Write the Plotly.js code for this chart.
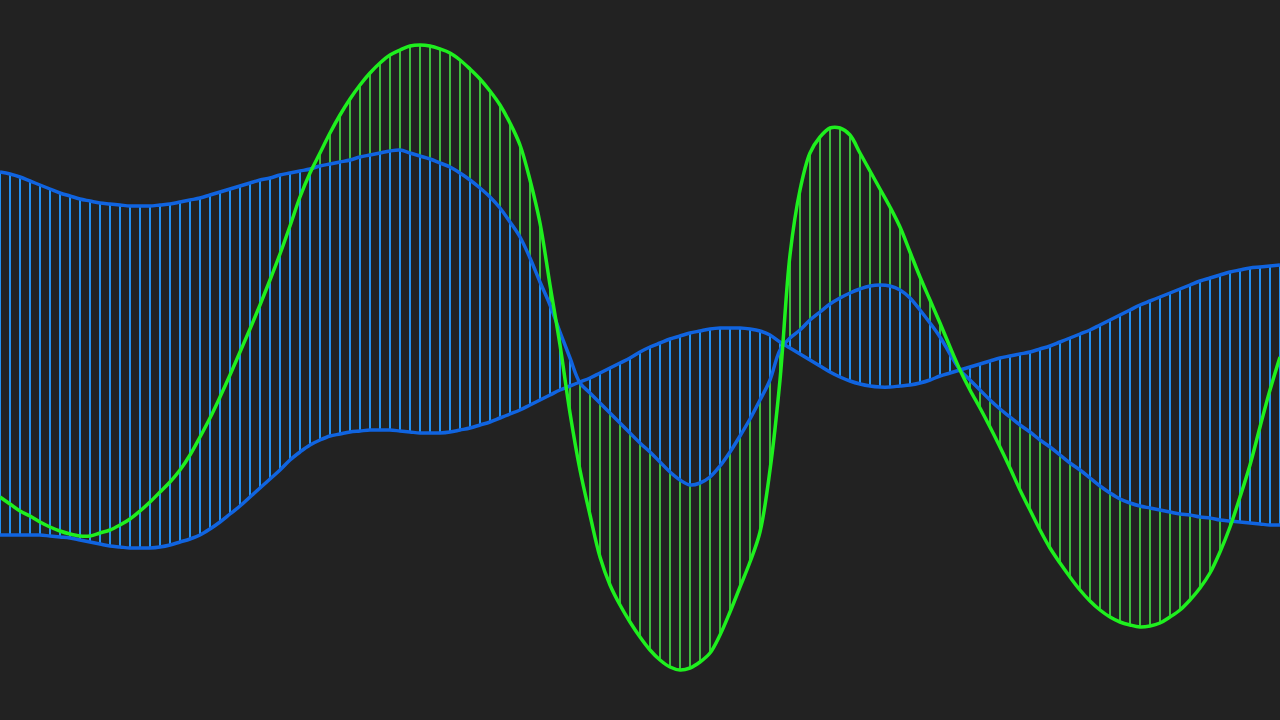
<!DOCTYPE html>
<html>
<head>
<meta charset="utf-8">
<script src="https://cdn.plot.ly/plotly-3.0.1.min.js"></script>
<style>
html,body{margin:0;padding:0;background:#222222;}
#chart{width:1280px;height:720px;}
</style>
</head>
<body>
<div id="chart"></div>
<script>
// sample positions (one every 10 units across the strip)
const positions = Array.from({length: 129}, (_, i) => i * 10);

// green oscillator
const greenWave = [
-137,-144,-151,-156,-162,-167,-171,-174,-176,-176,
-173,-170,-165,-159,-151,-142,-132,-122,-110,-95,
-77,-58,-37,-15,8,31,55,80,106,134,
163,187,207,227,245,261,275,287,297,305,
310,314,315,314,311,307,300,291,281,269,
255,237,215,180,137,75,15,-53,-110,-155,
-197,-225,-245,-262,-277,-290,-300,-307,-310,-308,
-302,-293,-275,-252,-227,-202,-172,-110,-20,105,
170,207,223,232,232,225,207,189,171,153,
133,108,83,60,37,13,-10,-30,-48,-67,
-87,-108,-130,-150,-170,-188,-203,-217,-230,-241,
-250,-257,-262,-265,-267,-266,-263,-257,-250,-240,
-228,-213,-192,-167,-137,-105,-67,-30,3
];

// blue line A (upper on the left)
const blueA = [
188,186,183,179,175,171,167,164,161,159,
157,156,155,154,154,154,155,156,158,160,
162,165,168,171,174,177,180,182,185,187,
189,191,194,196,198,200,203,205,207,209,
210,207,204,201,197,193,187,180,172,163,
152,138,123,102,78,55,28,2,-23,-33,
-43,-53,-63,-73,-83,-92,-102,-112,-120,-125,
-123,-117,-106,-92,-76,-59,-40,-20,10,22,
30,40,48,56,62,67,71,74,75,74,
70,62,50,37,23,6,-10,-20,-30,-40,
-49,-57,-65,-72,-80,-87,-95,-103,-110,-118,
-126,-133,-139,-143,-146,-148,-150,-152,-154,-155,
-157,-158,-160,-161,-162,-163,-164,-165,-165
];

// blue line B (lower on the left)
const blueB = [
-175,-175,-175,-175,-175,-176,-177,-178,-180,-182,
-184,-186,-187,-188,-188,-188,-187,-185,-182,-179,
-175,-169,-162,-154,-146,-137,-128,-119,-110,-100,
-92,-85,-80,-76,-74,-72,-71,-70,-70,-70,
-71,-72,-73,-73,-73,-72,-70,-68,-65,-62,
-58,-54,-50,-45,-40,-35,-30,-26,-22,-18,
-13,-8,-3,2,8,13,17,21,24,27,
29,31,32,32,32,31,29,25,18,12,
6,0,-6,-12,-17,-21,-24,-26,-27,-27,
-26,-25,-23,-20,-16,-13,-10,-7,-4,-1,
2,4,6,8,11,14,18,22,26,30,
35,40,45,50,55,59,63,67,71,75,
79,82,85,88,90,92,93,94,95
];

// hatch segments built from the series
const blueHX = [], blueHY = [], greenHX = [], greenHY = [];
for (let i = 0; i < positions.length; i++) {
  const x = positions[i];
  const hi = Math.max(blueA[i], blueB[i]);
  const lo = Math.min(blueA[i], blueB[i]);
  blueHX.push(x, x, null);
  blueHY.push(blueA[i], blueB[i], null);
  const g = greenWave[i];
  if (g > hi) { greenHX.push(x, x, null); greenHY.push(g, hi, null); }
  else if (g < lo) { greenHX.push(x, x, null); greenHY.push(g, lo, null); }
}

const traces = [
  {x: greenHX, y: greenHY, mode: 'lines', line: {color: '#45d845', width: 1.7}, hoverinfo: 'skip', connectgaps: false},
  {x: blueHX, y: blueHY, mode: 'lines', line: {color: '#2290f0', width: 2}, hoverinfo: 'skip', connectgaps: false},
  {x: positions, y: blueB, mode: 'lines', line: {color: '#1064e0', width: 3.5, shape: 'spline', smoothing: 1}},
  {x: positions, y: blueA, mode: 'lines', line: {color: '#1064e0', width: 3.5, shape: 'spline', smoothing: 1}},
  {x: positions, y: greenWave, mode: 'lines', line: {color: '#1ef01e', width: 3.5, shape: 'spline', smoothing: 1}}
];

const layout = {
  width: 1280, height: 720,
  margin: {l: 0, r: 0, t: 0, b: 0},
  paper_bgcolor: '#222222',
  plot_bgcolor: '#222222',
  showlegend: false,
  xaxis: {range: [0, 1280], visible: false, showgrid: false, zeroline: false, fixedrange: true},
  yaxis: {range: [-360, 360], visible: false, showgrid: false, zeroline: false, fixedrange: true}
};

Plotly.newPlot('chart', traces, layout, {displayModeBar: false, staticPlot: true});
</script>
</body>
</html>
